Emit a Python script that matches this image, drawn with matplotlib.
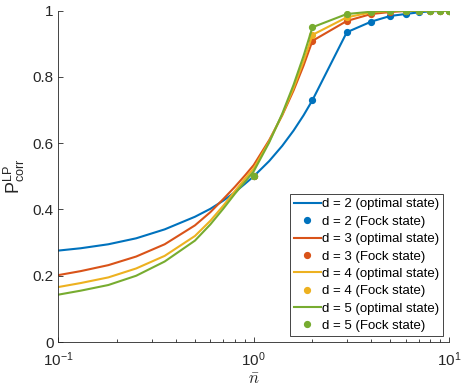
import math
import matplotlib
matplotlib.use('Agg')
import matplotlib.pyplot as plt
from matplotlib.ticker import FixedLocator, FuncFormatter, LogLocator, NullFormatter

plt.rcParams['font.family'] = ['Liberation Sans', 'DejaVu Sans']
plt.rcParams['mathtext.fontset'] = 'custom'
plt.rcParams['mathtext.rm'] = 'Liberation Sans'
plt.rcParams['mathtext.it'] = 'Liberation Sans:italic'

n_opt = [0.1, 0.13, 0.18, 0.25, 0.35, 0.5, 0.6, 0.7, 0.8, 0.9, 1.0,
         1.2, 1.4, 1.6, 1.8, 2, 3, 4, 5, 6, 7, 8, 9, 10]
opt_d2 = [0.276, 0.283, 0.295, 0.313, 0.340, 0.378, 0.402, 0.427, 0.452, 0.477, 0.500,
          0.546, 0.592, 0.638, 0.684, 0.730, 0.935, 0.967, 0.984, 0.990, 0.995, 0.998, 0.999, 1.0]
opt_d3 = [0.202, 0.214, 0.232, 0.258, 0.295, 0.352, 0.392, 0.432, 0.468, 0.502, 0.534,
          0.609, 0.684, 0.759, 0.834, 0.909, 0.969, 0.990, 0.996, 0.999, 1.0, 1.0, 1.0, 1.0]
opt_d4 = [0.166, 0.178, 0.195, 0.222, 0.260, 0.320, 0.366, 0.412, 0.455, 0.492, 0.524,
          0.605, 0.686, 0.766, 0.847, 0.927, 0.980, 0.995, 0.999, 1.0, 1.0, 1.0, 1.0, 1.0]
opt_d5 = [0.143, 0.155, 0.172, 0.200, 0.243, 0.306, 0.355, 0.403, 0.447, 0.483, 0.515,
          0.602, 0.689, 0.776, 0.863, 0.950, 0.990, 0.997, 1.0, 1.0, 1.0, 1.0, 1.0, 1.0]

n_fock = [1, 2, 3, 4, 5, 6, 7, 8, 9, 10]
fock_d2 = [0.5, 0.730, 0.935, 0.967, 0.984, 0.990, 0.995, 0.998, 0.999, 1.0]
fock_d3 = [0.5, 0.909, 0.969, 0.990, 0.996, 0.999, 1.0, 1.0, 1.0, 1.0]
fock_d4 = [0.5, 0.927, 0.980, 0.995, 0.999, 1.0, 1.0, 1.0, 1.0, 1.0]
fock_d5 = [0.5, 0.950, 0.990, 0.997, 1.0, 1.0, 1.0, 1.0, 1.0, 1.0]

dims = [2, 3, 4, 5]
colors = ['#0072BD', '#D95319', '#EDB120', '#77AC30']
opt_curves = [opt_d2, opt_d3, opt_d4, opt_d5]
fock_points = [fock_d2, fock_d3, fock_d4, fock_d5]

fig = plt.figure(figsize=(4.74, 3.89), dpi=100)
ax = fig.add_axes([0.1234, 0.1208, 0.8236, 0.8517])

for d, c, yo, yf in zip(dims, colors, opt_curves, fock_points):
    ax.plot(n_opt, yo, color=c, lw=1.5, label='d = %d (optimal state)' % d)
    ax.plot(n_fock, yf, 'o', color=c, ms=4.2, label='d = %d (Fock state)' % d)

ax.set_xscale('log')
ax.set_xlim(0.1, 10)
ax.set_ylim(0, 1)

axcol = '#262626'
for s in ['top', 'right']:
    ax.spines[s].set_visible(False)
for s in ['left', 'bottom']:
    ax.spines[s].set_color(axcol)
    ax.spines[s].set_linewidth(0.6)

ax.yaxis.set_major_locator(FixedLocator([0, 0.2, 0.4, 0.6, 0.8, 1]))
ax.yaxis.set_major_formatter(FuncFormatter(lambda v, p: '%g' % v))
ax.xaxis.set_major_locator(FixedLocator([0.1, 1, 10]))
ax.xaxis.set_major_formatter(FuncFormatter(
    lambda v, p: r'$\mathdefault{10^{%d}}$' % round(math.log10(v))))
ax.xaxis.set_minor_locator(LogLocator(base=10, subs=range(2, 10)))
ax.xaxis.set_minor_formatter(NullFormatter())
ax.tick_params(which='major', direction='in', length=3.5, width=0.6,
               color=axcol, labelcolor=axcol, labelsize=11)
ax.tick_params(which='minor', direction='in', length=2, width=0.6, color=axcol)
ax.tick_params(axis='x', pad=6)

ax.set_xlabel(r'$\bar{n}$', fontsize=12, color=axcol, math_fontfamily='cm', labelpad=2)
ax.set_ylabel(r'$\mathrm{P}^{\mathrm{LP}}_{\mathrm{corr}}$', fontsize=13, color=axcol, labelpad=4)

leg = ax.legend(loc='lower right', bbox_to_anchor=(0.985, 0.018), fontsize=9.5,
                frameon=True, fancybox=False, framealpha=1, edgecolor=axcol,
                handlelength=2.0, handletextpad=0.1, labelspacing=0.39,
                borderpad=0.3, borderaxespad=0)
leg.get_frame().set_linewidth(0.6)
for t in leg.get_texts():
    t.set_color('black')

fig.savefig('out.png', dpi=100)
